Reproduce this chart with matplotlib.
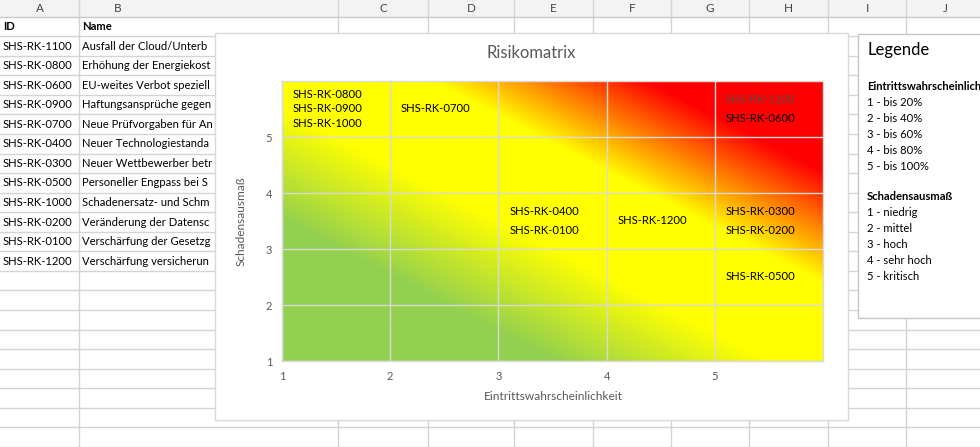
import numpy as np
import matplotlib.pyplot as plt
from matplotlib.colors import LinearSegmentedColormap
from matplotlib.patches import Rectangle

plt.rcParams['font.family'] = ['Lato', 'DejaVu Sans']

# ---------------------------------------------------------
# DATA
# ---------------------------------------------------------
risk_ids = ["SHS-RK-1100", "SHS-RK-0800", "SHS-RK-0600", "SHS-RK-0900",
            "SHS-RK-0700", "SHS-RK-0400", "SHS-RK-0300", "SHS-RK-0500",
            "SHS-RK-1000", "SHS-RK-0200", "SHS-RK-0100", "SHS-RK-1200"]
# names as far as they are visible next to the chart
risk_names = ["Ausfall der Cloud/Unterb", "Erhöhung der Energiekost",
              "EU-weites Verbot speziell", "Haftungsansprüche gegen",
              "Neue Prüfvorgaben für An", "Neuer Technologiestanda",
              "Neuer Wettbewerber betr", "Personeller Engpass bei S",
              "Schadenersatz- und Schm", "Veränderung der Datensc",
              "Verschärfung der Gesetzg", "Verschärfung versicherun"]
probability = [5, 1, 5, 1, 2, 3, 5, 5, 1, 5, 3, 4]
impact = [5, 5, 5, 5, 5, 3, 3, 2, 5, 3, 3, 3]

col_letters = ["A", "B", "C", "D", "E", "F", "G", "H", "I", "J"]

legend_title = "Legende"
prob_heading = "Eintrittswahrscheinlichkeit"
prob_levels = ["1 - bis 20%", "2 - bis 40%", "3 - bis 60%", "4 - bis 80%", "5 - bis 100%"]
impact_heading = "Schadensausmaß"
impact_levels = ["1 - niedrig", "2 - mittel", "3 - hoch", "4 - sehr hoch", "5 - kritisch"]

# ---------------------------------------------------------
# SHEET LAYOUT (pixels)
# ---------------------------------------------------------
W, H = 980, 447
col_edges = [0, 79, 338, 428, 514, 593, 671, 749, 828, 906, 990]
col_label_x = [40, 118, 383, 471, 553, 632, 710, 788, 867, 945]
header_h = 16.75
row_h = 19.55
fs = 8.1

fig = plt.figure(figsize=(W / 100, H / 100), dpi=100)
bg = fig.add_axes([0, 0, 1, 1])
bg.set_xlim(0, W)
bg.set_ylim(H, 0)
bg.axis('off')

grid_c = '#D4D4D4'
# header strip
bg.add_patch(Rectangle((0, 0), W, header_h, fc='#F3F3F3', ec='none', zorder=1))
bg.plot([0, W], [header_h, header_h], color='#C8C8C8', lw=1, zorder=1.5)
for x in col_edges[1:-1]:
    bg.plot([x, x], [0, H], color=grid_c, lw=1, zorder=1.2)
for letter, x in zip(col_letters, col_label_x):
    bg.text(x, header_h / 2 + 0.5, letter, ha='center', va='center',
            fontsize=8.5, color='#444444', zorder=2)

# row lines
y = header_h
while y < H:
    y += row_h
    bg.plot([0, W], [y, y], color=grid_c, lw=1, zorder=1.1)

# table content
bg.text(3, header_h + row_h / 2, "ID", ha='left', va='center',
        fontsize=fs, fontweight='bold', color='black', zorder=2)
bg.text(82, header_h + row_h / 2, "Name", ha='left', va='center',
        fontsize=fs, fontweight='bold', color='black', zorder=2)
for i, (rid, name) in enumerate(zip(risk_ids, risk_names)):
    yc = header_h + row_h * (i + 1.5)
    bg.text(3, yc, rid, ha='left', va='center', fontsize=fs, color='black', zorder=2)
    bg.text(82, yc, name, ha='left', va='center', fontsize=fs, color='black', zorder=2)

# ---------------------------------------------------------
# CHART BOX
# ---------------------------------------------------------
bg.add_patch(Rectangle((215, 33), 633, 387, fc='white', ec='#D9D9D9', lw=1, zorder=5))
bg.text(531, 53, "Risikomatrix", ha='center', va='center', fontsize=12,
        color='#595959', zorder=6)
bg.text(553, 396, "Eintrittswahrscheinlichkeit", ha='center', va='center',
        fontsize=8.6, color='#595959', zorder=6)
bg.text(241, 221, "Schadensausmaß", ha='center', va='center', rotation=90,
        fontsize=8.6, color='#595959', zorder=6)

# legend box
bg.add_patch(Rectangle((858, 34), 140, 284, fc='white', ec='#C6C6C6', lw=1, zorder=5))
bg.text(867, 50, legend_title, ha='left', va='center', fontsize=12, color='black', zorder=6)
ly = 87
bg.text(867, ly, prob_heading, ha='left', va='center', fontsize=fs,
        fontweight='bold', color='black', zorder=6)
for k, s in enumerate(prob_levels):
    bg.text(867, ly + 16 * (k + 1), s, ha='left', va='center', fontsize=fs,
            color='black', zorder=6)
ly = 196
bg.text(867, ly, impact_heading, ha='left', va='center', fontsize=fs,
        fontweight='bold', color='black', zorder=6)
for k, s in enumerate(impact_levels):
    bg.text(867, ly + 16 * (k + 1), s, ha='left', va='center', fontsize=fs,
            color='black', zorder=6)

# ---------------------------------------------------------
# PLOT AREA WITH GRADIENT
# ---------------------------------------------------------
px0, px1, py0, py1 = 282, 823, 81, 361
ax = fig.add_axes([px0 / W, 1 - py1 / H, (px1 - px0) / W, (py1 - py0) / H])
ax.set_zorder(3)

risk_cmap = LinearSegmentedColormap.from_list(
    "risk", [(0.0, "#92D050"), (0.25, "#92D050"), (0.45, "#FFFF00"),
             (0.64, "#FFFF00"), (0.84, "#FF0000"), (1.0, "#FF0000")])
u, v = np.meshgrid(np.linspace(0, 1, 500), np.linspace(0, 1, 500))
ax.imshow((u + v) / 2, cmap=risk_cmap, origin='lower', extent=[1, 6, 1, 6],
          aspect='auto', vmin=0, vmax=1, interpolation='bilinear', zorder=0)

ax.set_xlim(1, 6)
ax.set_ylim(1, 6)
ax.set_xticks([1, 2, 3, 4, 5])
ax.set_yticks([1, 2, 3, 4, 5])
ax.set_axisbelow(False)
ax.grid(True, color='#D9D9D9', lw=1)
ax.tick_params(length=0, labelsize=8, labelcolor='#595959', pad=7)
for sp in ax.spines.values():
    sp.set_color('#D9D9D9')
    sp.set_linewidth(1)

# labels stacked per cell
cells = {}
for rid, p, s in zip(risk_ids, probability, impact):
    cells.setdefault((p, s), []).append(rid)
for (p, s), ids in cells.items():
    n = len(ids)
    step = 0.26 if n > 2 else 0.34
    for j, rid in enumerate(ids):
        yy = s + 0.5 + step * ((n - 1) / 2 - j)
        col = '#5A4A4A' if rid == "SHS-RK-1100" else 'black'
        ax.text(p + 0.1, yy, rid, ha='left', va='center', fontsize=fs,
                color=col, zorder=4)

fig.savefig("out.png", dpi=100)
